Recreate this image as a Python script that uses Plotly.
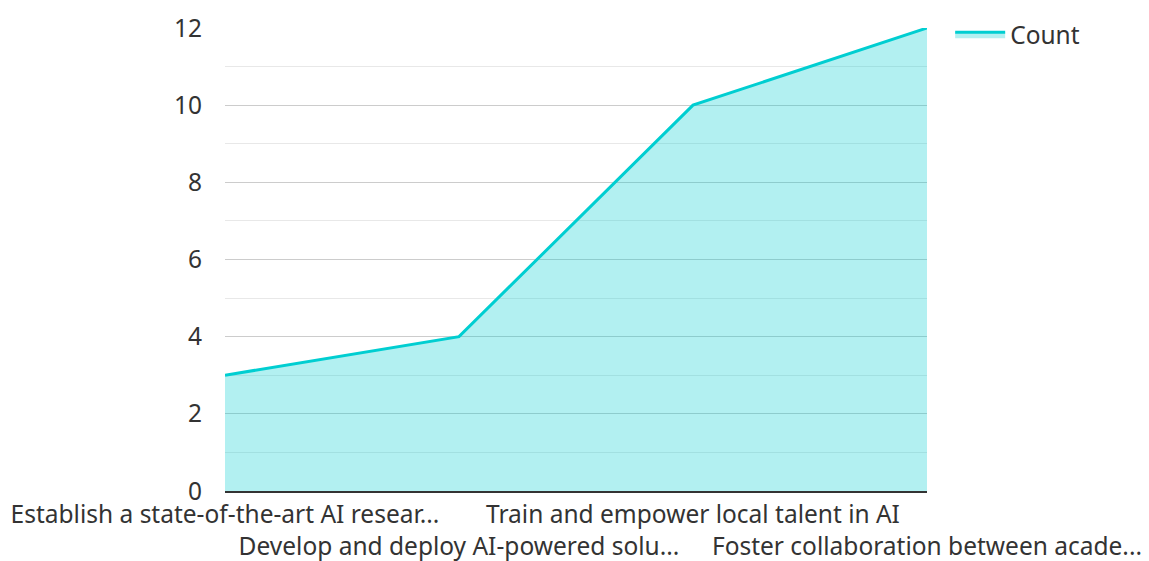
import plotly.graph_objects as go

categories = [
    "Establish a state-of-the-art AI resear...",
    "Develop and deploy AI-powered solu...",
    "Train and empower local talent in AI",
    "Foster collaboration between acade...",
]
counts = [3, 4, 10, 12]
series_name = "Count"

tick_text = [("<br>" + c) if i % 2 else c for i, c in enumerate(categories)]

FONT = "Noto Sans"
TXT = "#333333"
FS = 24.5

fig = go.Figure()
fig.add_trace(go.Scatter(
    x=categories, y=counts, name=series_name, mode="lines",
    line=dict(color="rgb(0,206,209)", width=3),
    fill="tozeroy", fillcolor="rgba(0,206,209,0.3)",
))

fig.update_layout(
    width=1149, height=561,
    margin=dict(l=225, r=222, t=21, b=70),
    paper_bgcolor="white", plot_bgcolor="white",
    font=dict(family=FONT, size=FS, color=TXT),
    showlegend=True,
    legend=dict(x=1.033, y=1.035, xanchor="left", yanchor="top",
                font=dict(size=FS, color=TXT), bgcolor="rgba(0,0,0,0)",
                itemwidth=50),
    xaxis=dict(
        type="category", range=[0, 3],
        tickmode="array", tickvals=categories, ticktext=tick_text,
        tickangle=0, showgrid=False, zeroline=False,
        showline=True, linecolor="#333333", linewidth=2, ticks="",
        tickfont=dict(size=FS, color=TXT), automargin=False,
        ticklabelstandoff=1,
    ),
    yaxis=dict(
        range=[0, 12], dtick=2, showgrid=True, gridcolor="#cccccc", gridwidth=1,
        zeroline=False, showline=False, ticks="", ticklabelstandoff=22,
        tickfont=dict(size=FS, color=TXT), automargin=False,
        minor=dict(dtick=1, showgrid=True, gridcolor="#e8e8e8", gridwidth=1),
    ),
)

fig.write_html("out.html", config={"displayModeBar": False},
               post_script="document.body.style.margin='0';document.body.style.overflow='hidden';")
